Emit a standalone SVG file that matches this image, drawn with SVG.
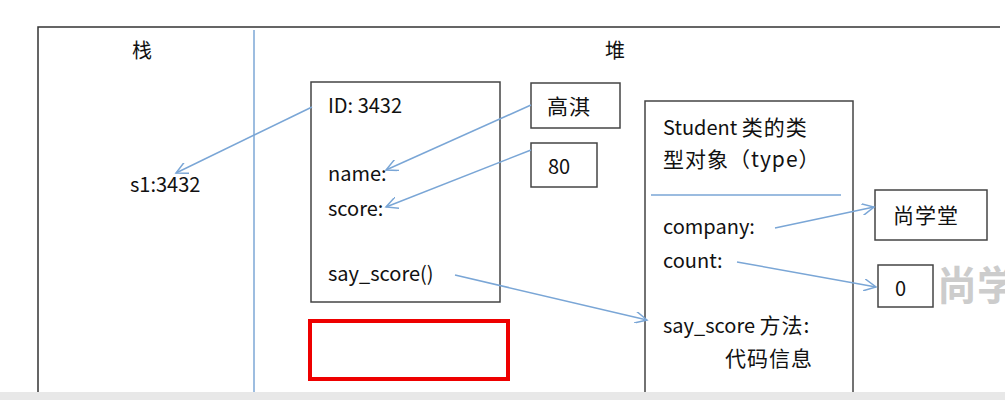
<svg xmlns="http://www.w3.org/2000/svg" width="1005" height="400" viewBox="0 0 1005 400">
<style>
text{font-family:"Noto Sans CJK SC","Liberation Sans",sans-serif;font-size:20px;fill:#111}
.k{font-size:21px;letter-spacing:1px}
.b{fill:#fff;stroke:#444;stroke-width:1.5}
.c{stroke:#7aa6d6;stroke-width:1.5;fill:none;marker-end:url(#a)}
</style>
<defs><marker id="a" markerWidth="14" markerHeight="12" refX="12" refY="6" orient="auto" markerUnits="userSpaceOnUse"><path d="M0,0L12,6L0,12" fill="none" stroke="#7aa6d6" stroke-width="1.5"/></marker></defs>
<rect width="1005" height="400" fill="#fff"/>
<path d="M38,392V27H1000" fill="none" stroke="#333" stroke-width="1.5"/>
<line x1="254" y1="30" x2="254" y2="392" stroke="#9dbde0" stroke-width="2"/>
<text x="132" y="58">栈</text><text x="605" y="58">堆</text>
<text x="130" y="192">s1:3432</text>
<g id="obj"><rect class="b" x="311" y="82" width="189" height="220"/>
<text x="328" y="113">ID: 3432</text><text x="328" y="181">name:</text><text x="328" y="216">score:</text><text x="328" y="281">say_score()</text></g>
<g id="gq"><rect class="b" x="531" y="83" width="89" height="45"/><text class="k" x="547" y="114">高淇</text></g>
<g id="n80"><rect class="b" x="531" y="143" width="66" height="44"/><text x="548" y="174">80</text></g>
<g id="cls"><rect class="b" x="645" y="101" width="208" height="310"/>
<line x1="651" y1="195" x2="841" y2="195" stroke="#7aa6d6" stroke-width="1.5"/>
<text x="663" y="135">Student <tspan class="k">类的类</tspan></text><text class="k" x="663" y="167">型对象（type）</text>
<text x="663" y="234">company:</text><text x="663" y="268">count:</text>
<text x="663" y="333">say_score <tspan class="k">方法:</tspan></text><text class="k" x="725" y="366">代码信息</text></g>
<g id="sxt"><rect class="b" x="875" y="190" width="112" height="50"/><text class="k" x="893" y="223">尚学堂</text></g>
<g id="zero"><rect class="b" x="878" y="265" width="55" height="42"/><text x="895" y="296">0</text></g>
<text x="937" y="300" style="font-size:40px;fill:#ccc;font-weight:bold">尚学</text>
<g id="red"><rect x="310" y="321" width="198" height="58" fill="#fff" stroke="#e00" stroke-width="4"/></g>
<g id="connectors">
<line class="c" x1="312" y1="107" x2="176" y2="173"/>
<line class="c" x1="531" y1="105" x2="386" y2="170"/>
<line class="c" x1="531" y1="150" x2="386" y2="207"/>
<line class="c" x1="775" y1="228" x2="874" y2="207"/>
<line class="c" x1="737" y1="262" x2="876" y2="287"/>
<line class="c" x1="455" y1="275" x2="647" y2="320"/>
</g>
<rect x="0" y="392" width="1005" height="8" fill="#e8e8e8"/>
</svg>
